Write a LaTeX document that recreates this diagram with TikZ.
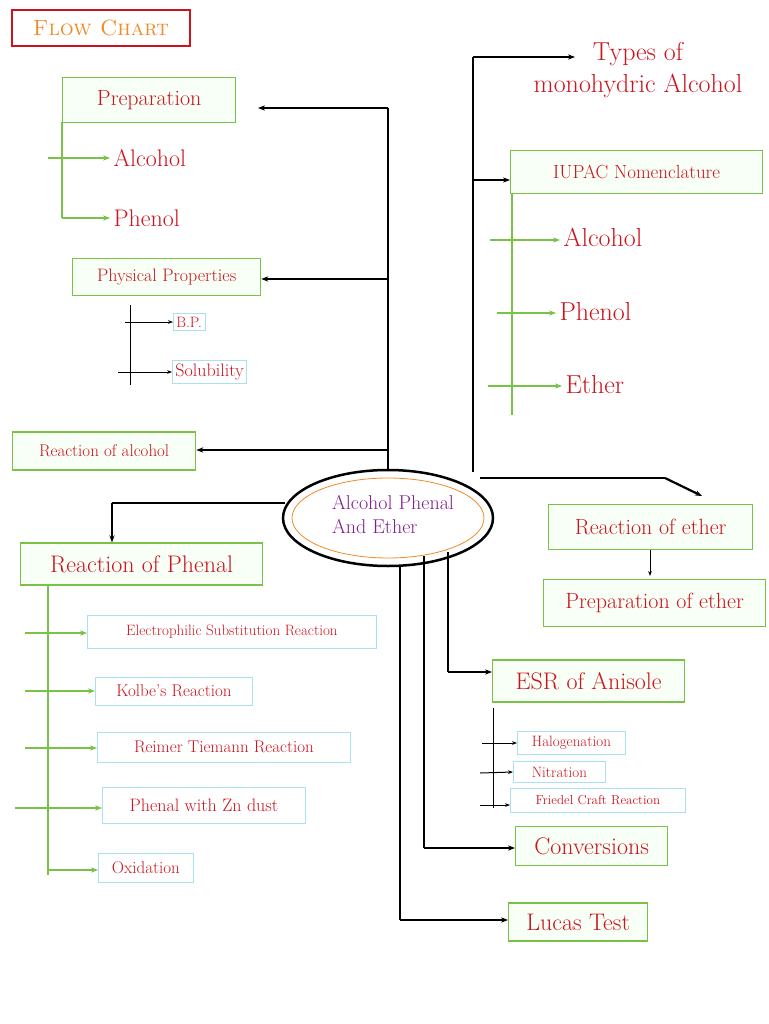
\documentclass[tikz,border=0pt]{standalone}
\usetikzlibrary{arrows.meta,shapes.geometric}
\definecolor{rd}{RGB}{205,20,30}
\definecolor{gr}{RGB}{120,195,70}
\definecolor{bl}{RGB}{170,225,240}
\definecolor{pu}{RGB}{130,30,140}
\definecolor{og}{RGB}{240,140,40}
\newcommand{\fs}[1]{\fontsize{#1}{#1}\selectfont}
\tikzset{
 gbox/.style={draw=gr,line width=1.3pt,fill=green!3,text=rd,font=\fs{22},inner sep=4pt,anchor=west},
 bbox/.style={draw=bl,line width=0.8pt,text=rd,inner sep=3pt,anchor=west,font=\fs{15}},
 blk/.style={line width=2.2pt,-{Stealth[length=7pt]}},
 bk/.style={line width=2.2pt},
 thin/.style={line width=1pt,-{Stealth[length=5pt]}},
 grn/.style={line width=2.2pt,draw=gr},
 ga/.style={line width=2.2pt,draw=gr,-{Stealth[length=7pt]}},
 lab/.style={text=rd,font=\fs{24},anchor=west}
}
\begin{document}
\begin{tikzpicture}[x=1pt,y=-1pt]
\useasboundingbox (0,0) rectangle (768,1024);
\fill[white] (0,0) rectangle (768,1024);
\node[draw=rd,line width=1.2pt,text=og,font=\fs{22}\scshape,minimum width=178pt,minimum height=36pt] (fc) at (101,28) {Flow Chart};
% center
\node[draw,line width=2.5pt,ellipse,minimum width=210pt,minimum height=96pt,fill=white] (c) at (388,518) {};
\draw[og,line width=0.8pt] (388,518) ellipse (96pt and 40pt);
\node[text=pu,font=\fs{20},align=left] (ct) at (393,515) {Alcohol Phenal\\[4pt]And Ether};
% left upper
\node[gbox,minimum width=173pt,minimum height=45pt] (prep) at (62,100) {Preparation};
\node[lab] (pa) at (110,158) {Alcohol};
\node[lab] (pp) at (110,218) {Phenol};
\coordinate (g1) at (62,122); \coordinate (g2) at (62,218);
\draw[grn] (g1) -- (g2);
\coordinate (g3) at (48,158); \draw[ga] (g3) -- (pa.west);
\draw[ga] (g2) -- (pp.west);
\node[gbox,font=\fs{18},minimum width=188pt,minimum height=37pt] (phys) at (72,277) {Physical Properties};
\node[bbox] (bp) at (173,322) {B.P.};
\node[bbox,font=\fs{18}] (sol) at (172,372) {Solubility};
\coordinate (t1) at (130,305); \coordinate (t2) at (130,385);
\draw[line width=1pt] (t1) -- (t2);
\coordinate (t3) at (125,322); \draw[thin] (t3) -- (bp.west);
\coordinate (t4) at (118,372); \draw[thin] (t4) -- (sol.west);
\node[gbox,font=\fs{17},minimum width=183pt,minimum height=38pt] (ra) at (12,451) {Reaction of alcohol};
\coordinate (m1) at (388,108); \coordinate (m2) at (388,470);
\draw[bk] (m1) -- (m2);
\draw[blk] (m1) -- (258,108);
\coordinate (m3) at (388,279); \draw[blk] (m3) -- (phys.east |- m3);
\coordinate (m4) at (388,450); \draw[blk] (m4) -- (ra.east |- m4);
% reaction of phenal
\node[gbox,font=\fs{24},minimum width=242pt,minimum height=42pt] (rp) at (20,564) {Reaction of Phenal};
\coordinate (l1) at (285,503); \coordinate (l2) at (112,503);
\draw[bk] (l1) -- (l2); \draw[blk] (l2) -- (rp.north -| l2);
\node[bbox,minimum width=289pt,minimum height=33pt] (e1) at (87,632) {Electrophilic Substitution Reaction};
\node[bbox,font=\fs{17},minimum width=157pt,minimum height=28pt] (e2) at (95,691) {Kolbe's Reaction};
\node[bbox,font=\fs{17},minimum width=253pt,minimum height=30pt] (e3) at (97,747) {Reimer Tiemann Reaction};
\node[bbox,font=\fs{18},minimum width=203pt,minimum height=36pt] (e4) at (102,805) {Phenal with Zn dust};
\node[bbox,font=\fs{17},minimum width=95pt,minimum height=29pt] (e5) at (98,868) {Oxidation};
\coordinate (v1) at (48,585); \coordinate (v2) at (48,875);
\draw[grn] (v1) -- (v2);
\coordinate (h1) at (25,633); \draw[ga] (h1) -- (e1.west |- h1);
\coordinate (h2) at (25,691); \draw[ga] (h2) -- (e2.west |- h2);
\coordinate (h3) at (25,748); \draw[ga] (h3) -- (e3.west |- h3);
\coordinate (h4) at (15,808); \draw[ga] (h4) -- (e4.west |- h4);
\coordinate (h5) at (48,870); \draw[ga] (h5) -- (e5.west |- h5);
% right upper
\coordinate (r1) at (473,472); \coordinate (r2) at (473,57);
\draw[bk] (r1) -- (r2);
\node[text=rd,font=\fs{26},align=center] (types) at (638,70) {Types of\\[6pt]monohydric Alcohol};
\coordinate (r4) at (575,57); \draw[blk] (r2) -- (r4);
\node[gbox,font=\fs{19},minimum width=252pt,minimum height=43pt] (iu) at (510,172) {IUPAC Nomenclature};
\coordinate (r3) at (473,180); \draw[blk] (r3) -- (iu.west |- r3);
\node[lab,font=\fs{26}] (ia) at (560,237) {Alcohol};
\node[lab,font=\fs{26}] (ip) at (556,312) {Phenol};
\node[lab,font=\fs{26}] (ie) at (562,385) {Ether};
\coordinate (u1) at (512,193); \coordinate (u2) at (512,415);
\draw[grn] (u1) -- (u2);
\coordinate (u3) at (490,240); \draw[ga] (u3) -- (ia.west |- u3);
\coordinate (u4) at (497,313); \draw[ga] (u4) -- (ip.west |- u4);
\coordinate (u5) at (488,386); \draw[ga] (u5) -- (ie.west |- u5);
% ether
\node[gbox,minimum width=204pt,minimum height=45pt] (re) at (548,527) {Reaction of ether};
\node[gbox,minimum width=222pt,minimum height=47pt] (pe) at (543,603) {Preparation of ether};
\coordinate (w1) at (480,478); \coordinate (w2) at (665,478);
\draw[bk] (w1) -- (w2); \draw[blk] (w2) -- (702,496);
\draw[thin] (re.south -| 650,0) -- (650,576);
% ESR
\node[gbox,font=\fs{24},minimum width=192pt,minimum height=42pt] (esr) at (492,681) {ESR of Anisole};
\coordinate (x1) at (448,552); \coordinate (x2) at (448,672);
\draw[bk] (x1) -- (x2); \draw[blk] (x2) -- (esr.west |- x2);
\node[bbox,minimum width=108pt,minimum height=23pt] (ha) at (517,743) {Halogenation};
\node[bbox,minimum width=92pt,minimum height=21pt] (ni) at (513,772) {Nitration};
\node[bbox,font=\fs{13},minimum width=175pt,minimum height=24pt] (fr) at (510,800) {Friedel Craft Reaction};
\coordinate (y1) at (493,708); \coordinate (y2) at (493,808);
\draw[line width=1pt] (y1) -- (y2);
\coordinate (y3) at (482,743); \draw[thin] (y3) -- (ha.west);
\coordinate (y4) at (480,773); \draw[thin] (y4) -- (ni.west);
\coordinate (y5) at (480,805); \draw[thin] (y5) -- (fr.west |- y5);
\node[gbox,font=\fs{24},minimum width=152pt,minimum height=39pt] (co) at (515,846) {Conversions};
\coordinate (z1) at (424,556); \coordinate (z2) at (424,848);
\draw[bk] (z1) -- (z2); \draw[blk] (z2) -- (co.west |- z2);
\node[gbox,font=\fs{24},minimum width=139pt,minimum height=38pt] (lu) at (508,922) {Lucas Test};
\coordinate (k1) at (400,565); \coordinate (k2) at (400,920);
\draw[bk] (k1) -- (k2); \draw[blk] (k2) -- (lu.west |- k2);
\end{tikzpicture}
\end{document}
